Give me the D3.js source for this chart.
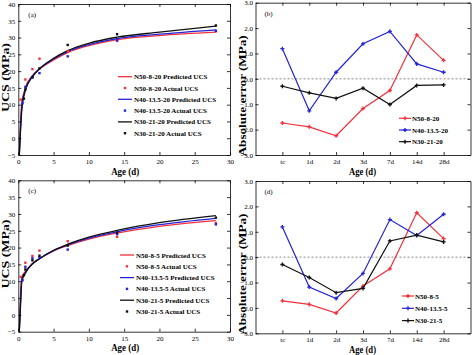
<!DOCTYPE html>
<html><head><meta charset="utf-8">
<script src="https://cdn.jsdelivr.net/npm/d3@7"></script>
<style>
body{margin:0;background:#fff}
svg{display:block}
text{font-family:"Liberation Serif","Times New Roman",serif;fill:#000}
</style>
</head><body>
<svg id="chart" width="474" height="355"></svg>
<script>
// ---------- data ----------
const curveT = [0.14, 0.3, 0.5, 1, 2, 3, 5, 7, 10, 14, 20, 28];
// panel (a) predicted curves
const predA_N50 = [-5, 4, 10.5, 15, 18.6, 20.6, 23.3, 25.5, 27.6, 29.4, 30.6, 31.6];
const predA_N40 = [-5, 2.5, 9.5, 14.6, 18.5, 20.7, 23.6, 25.8, 27.9, 29.7, 31.0, 32.3];
const predA_N30 = [-5, 1.5, 8.5, 14.2, 18.3, 20.7, 23.8, 26.1, 28.3, 30.1, 31.6, 33.4];
// panel (c) predicted curves
const predC_N50 = [-5, 5, 11.2, 12.9, 15.3, 16.7, 19.0, 20.6, 22.5, 24.3, 26.3, 28.0];
const predC_N40 = [-5, 3, 10.5, 12.6, 15.2, 16.7, 19.1, 20.8, 22.8, 24.7, 26.8, 28.7];
const predC_N30 = [-5, 2, 10.0, 12.4, 15.1, 16.7, 19.2, 21.0, 23.1, 25.1, 27.4, 29.5];
// actual test ages (first value = tc, final setting time)
const ageN50 = [0.35, 1, 2, 3, 7, 14, 28];
const ageN40 = [0.6, 1, 2, 3, 7, 14, 28];
const ageN30 = [0.8, 1, 2, 3, 7, 14, 28];
const actA_N50 = [11.5, 17.5, 20.6, 23.7, 26.0, 29.0, 31.9];
const actA_N40 = [10.4, 15.3, 18.1, 19.4, 24.4, 29.2, 32.0];
const actA_N30 = [11.8, 14.5, 18.2, 20.8, 27.8, 31.0, 33.6];
const actC_N50 = [11.3, 15.5, 17.5, 19.1, 21.9, 23.2, 27.3];
const actC_N40 = [10.3, 14.3, 16.8, 17.1, 19.4, 24.0, 26.9];
const actC_N30 = [11.8, 13.5, 16.2, 17.6, 20.6, 24.5, 28.9];
// error panels
const ageLabels = ["tc", "1d", "2d", "3d", "7d", "14d", "28d"];
const errB_N50 = [-1.74, -1.89, -2.24, -1.17, -0.46, 1.73, 0.73];
const errB_N40 = [1.19, -1.26, 0.26, 1.38, 1.87, 0.59, 0.26];
const errB_N30 = [-0.29, -0.55, -0.77, -0.37, -1.01, -0.26, -0.24];
const errD_N50 = [-1.72, -1.86, -2.2, -1.14, -0.46, 1.75, 0.73];
const errD_N40 = [1.19, -1.18, -1.63, -0.64, 1.48, 0.85, 1.69];
const errD_N30 = [-0.29, -0.8, -1.4, -1.23, 0.64, 0.87, 0.6];
const ucsTicks = [-5, 0, 5, 10, 15, 20, 25, 30, 35, 40];
const ageTicks = [0, 5, 10, 15, 20, 25, 30];
const errTicks = [-3, -2, -1, 0, 1, 2, 3];

// ---------- styles ----------
const RED = "#f2323c", BLUE = "#2323d8", BLACK = "#111";
const svg = d3.select("#chart");
const FS_TICK = 7;

function frame(g, x, y, xTicks, yTicks, xFmt, yPad) {
  const [l, r] = x.range(), [b, t] = y.range();
  const tk = 3;
  const ax = (gen, tr) => {
    const a = g.append("g").attr("transform", tr).call(gen);
    a.selectAll("path.domain").attr("stroke", "#000").attr("stroke-width", 0.8);
    a.selectAll(".tick line").attr("stroke", "#000").attr("stroke-width", 0.8);
    a.selectAll("text").style("font-size", FS_TICK + "px").attr("fill", "#000")
      .style("font-family", '"Liberation Serif","Times New Roman",serif');
    return a;
  };
  ax(d3.axisBottom(x).tickValues(xTicks).tickSize(-tk).tickSizeOuter(0).tickPadding(4).tickFormat(xFmt), `translate(0,${b})`);
  ax(d3.axisTop(x).tickValues(xTicks).tickSize(-tk).tickSizeOuter(0).tickFormat(""), `translate(0,${t})`);
  ax(d3.axisLeft(y).tickValues(yTicks).tickSize(-tk).tickSizeOuter(0).tickPadding(yPad), `translate(${l},0)`);
  ax(d3.axisRight(y).tickValues(yTicks).tickSize(-tk).tickSizeOuter(0).tickFormat(""), `translate(${r},0)`);
}

function clipFor(id, x, y) {
  const [l, r] = x.range(), [b, t] = y.range();
  svg.append("clipPath").attr("id", id).append("rect")
    .attr("x", l).attr("y", t).attr("width", r - l).attr("height", b - t);
  return `url(#${id})`;
}

function ucsPanel(box, preds, ages, acts, names, label, clipId) {
  const g = svg.append("g");
  const x = d3.scaleLinear().domain([0, 30]).range([box.l, box.r]);
  const y = d3.scaleLinear().domain([-5, 40]).range([box.b, box.t]);
  const clip = clipFor(clipId, x, y);
  const colors = [RED, BLUE, BLACK];
  const line = d3.line().x((d, i) => x(curveT[i])).y(d => y(d)).curve(d3.curveMonotoneX);
  preds.forEach((p, k) => {
    g.append("path").attr("d", line(p)).attr("fill", "none")
      .attr("stroke", colors[k]).attr("stroke-width", 1.3).attr("clip-path", clip);
  });
  acts.forEach((a, k) => {
    g.selectAll(null).data(a).enter().append("rect")
      .attr("x", (d, i) => x(ages[k][i]) - 1.2).attr("y", d => y(d) - 1.2)
      .attr("width", 2.4).attr("height", 2.4).attr("fill", colors[k]);
  });
  frame(g, x, y, ageTicks, ucsTicks, d3.format("d"), 3);
  g.append("text").attr("x", box.l + 10).attr("y", box.t + 13).style("font-size", "7px").text(label);
  // legend
  const lg = box.leg;
  names.forEach((nm, k) => {
    const yy1 = lg.y + k * 2 * lg.dy, yy2 = yy1 + lg.dy;
    g.append("line").attr("x1", lg.x).attr("x2", lg.x + 14).attr("y1", yy1).attr("y2", yy1)
      .attr("stroke", colors[k]).attr("stroke-width", 1.3);
    g.append("text").attr("x", lg.x + 16).attr("y", yy1 + 2.5).style("font-size", "7px")
      .style("font-weight", "bold").text(nm + " Predicted UCS");
    g.append("rect").attr("x", lg.x + 7 - 1.2).attr("y", yy2 - 1.2).attr("width", 2.4).attr("height", 2.4)
      .attr("fill", colors[k]);
    g.append("text").attr("x", lg.x + 16).attr("y", yy2 + 2.5).style("font-size", "7px")
      .style("font-weight", "bold").text(nm + " Actual UCS");
  });
  g.append("text").attr("transform", `translate(${box.l - 9},${(box.t + box.b) / 2 - 2}) rotate(-90)`)
    .attr("text-anchor", "middle").style("font-size", "11px").style("font-weight", "bold")
    .attr("textLength", 69).attr("lengthAdjust", "spacingAndGlyphs").text("UCS (MPa)");
  g.append("text").attr("x", (box.l + box.r) / 2 + 1).attr("y", box.b + 19.5)
    .attr("text-anchor", "middle").style("font-size", "11px").style("font-weight", "bold")
    .attr("textLength", 28).attr("lengthAdjust", "spacingAndGlyphs").text("Age (d)");
}

function errPanel(box, errs, names, label, clipId) {
  const g = svg.append("g");
  const x = d3.scaleLinear().domain([0, 8]).range([box.l, box.r]);
  const y = d3.scaleLinear().domain([-3, 3]).range([box.b, box.t]);
  const clip = clipFor(clipId, x, y);
  const colors = [RED, BLUE, BLACK];
  g.append("line").attr("x1", box.l).attr("x2", box.r).attr("y1", y(0)).attr("y2", y(0))
    .attr("stroke", "#555").attr("stroke-width", 0.7).attr("stroke-dasharray", "2,2");
  const line = d3.line().x((d, i) => x(i + 1)).y(d => y(d));
  const star = d3.symbol().type(d3.symbolCross).size(9);
  errs.forEach((e, k) => {
    g.append("path").attr("d", line(e)).attr("fill", "none").attr("stroke", colors[k])
      .attr("stroke-width", 1.2).attr("clip-path", clip);
    g.selectAll(null).data(e).enter().append("path").attr("d", star)
      .attr("transform", (d, i) => `translate(${x(i + 1)},${y(d)})`).attr("fill", colors[k]);
  });
  frame(g, x, y, d3.range(1, 8), errTicks, (d) => ageLabels[d - 1], 2.5);
  g.append("text").attr("x", box.l + 9).attr("y", box.t + 13).style("font-size", "7px").text(label);
  const lg = box.leg;
  names.forEach((nm, k) => {
    const yy = lg.y + k * lg.dy;
    g.append("line").attr("x1", lg.x).attr("x2", lg.x + 12).attr("y1", yy).attr("y2", yy)
      .attr("stroke", colors[k]).attr("stroke-width", 1.2);
    g.append("path").attr("d", star).attr("transform", `translate(${lg.x + 6},${yy})`).attr("fill", colors[k]);
    g.append("text").attr("x", lg.x + 13).attr("y", yy + 2.5).style("font-size", "7px")
      .style("font-weight", "bold").text(nm);
  });
  g.append("text").attr("transform", `translate(${box.l - 10},${(box.t + box.b) / 2 + 17}) rotate(-90)`)
    .attr("text-anchor", "middle").style("font-size", "10px").style("font-weight", "bold")
    .attr("textLength", 121).attr("lengthAdjust", "spacingAndGlyphs").text("Absolute error (MPa)");
  g.append("text").attr("x", (box.l + box.r) / 2 - 0.5).attr("y", box.b + 19.5)
    .attr("text-anchor", "middle").style("font-size", "11px").style("font-weight", "bold")
    .attr("textLength", 27).attr("lengthAdjust", "spacingAndGlyphs").text("Age (d)");
}

ucsPanel({l: 18.3, r: 230, t: 4, b: 155, leg: {x: 118, y: 76.7, dy: 11.3}},
  [predA_N50, predA_N40, predA_N30], [ageN50, ageN40, ageN30],
  [actA_N50, actA_N40, actA_N30], ["N50-8-20", "N40-13.5-20", "N30-21-20"], "(a)", "ca");
errPanel({l: 255.5, r: 470.5, t: 2.7, b: 155, leg: {x: 399, y: 118.3, dy: 11.7}},
  [errB_N50, errB_N40, errB_N30], ["N50-8-20", "N40-13.5-20", "N30-21-20"], "(b)", "cb");
ucsPanel({l: 18.3, r: 230, t: 180.3, b: 331.7, leg: {x: 120, y: 255, dy: 11.3}},
  [predC_N50, predC_N40, predC_N30], [ageN50, ageN40, ageN30],
  [actC_N50, actC_N40, actC_N30], ["N50-8-5", "N40-13.5-5", "N30-21-5"], "(c)", "cc");
errPanel({l: 255.5, r: 470.5, t: 181, b: 333.3, leg: {x: 402, y: 296, dy: 12.3}},
  [errD_N50, errD_N40, errD_N30], ["N50-8-5", "N40-13.5-5", "N30-21-5"], "(d)", "cd");
</script>
</body></html>
